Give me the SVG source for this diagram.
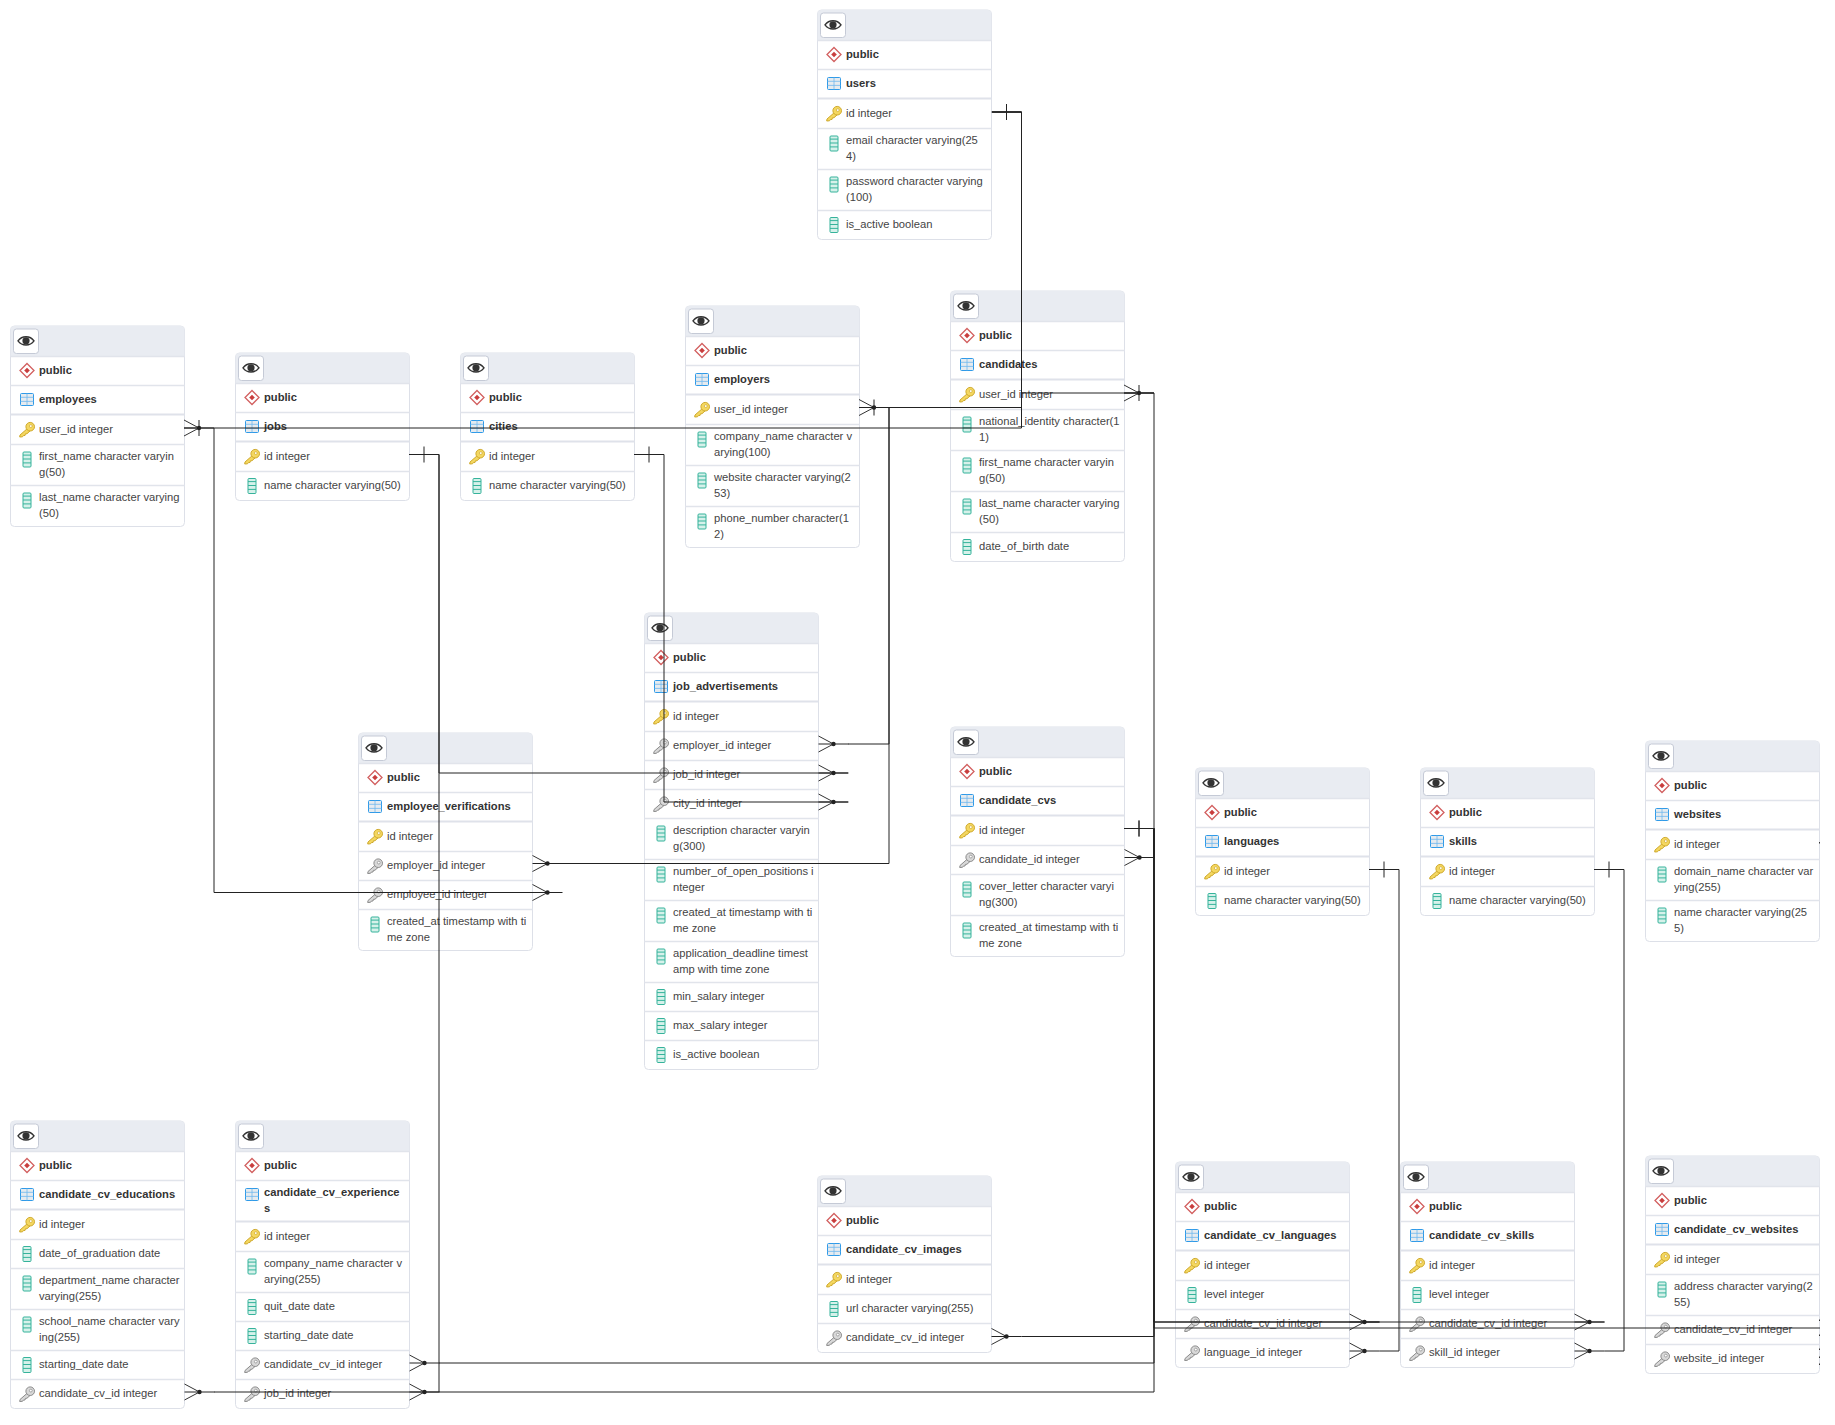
<svg xmlns="http://www.w3.org/2000/svg" width="1835" height="1425" viewBox="0 0 1835 1425">
<style>
text{font-family:"Liberation Sans",Arial,sans-serif;font-size:11.2px;fill:#444;transform:translate(-.5px,-.8px)}
.b{font-weight:700;fill:#333}
.box{fill:#fff;stroke:#dde0e8}
.hd{fill:#e9ecf2}
.s{stroke:#e1e4eb;stroke-width:1.3;fill:none}
.n{stroke:#dfe2ea;stroke-width:2;fill:none}
.l{stroke:#222;fill:none}
.c{stroke:#333;fill:none}
</style>
<defs>
<g id="head">
<path class="hd" d="M0 30.5V4a4 4 0 0 1 4-4H170a4 4 0 0 1 4 4V30.5Z"/>
<rect x="3" y="3" width="25" height="24.5" rx="3" fill="#fff" stroke="#c5cad6"/>
<path d="M7.5 14.8C11.5 9.3 19.5 9.3 23.5 14.8C19.5 20.3 11.5 20.3 7.5 14.8Z" fill="#fff" stroke="#333" stroke-width="1.4"/>
<circle cx="15.5" cy="14.8" r="3.6" fill="#333"/>
<path class="s" d="M0 30.5H174M0 59.5H174"/>
<path d="M16.5 37.5L23.5 44.5L16.5 51.5L9.5 44.5Z" fill="#fff" stroke="#d25f5f" stroke-width="1.3"/>
<path d="M16.5 41.7L19.3 44.5L16.5 47.3L13.7 44.5Z" fill="#c93d3d"/>
<rect x="10" y="67.5" width="13" height="12" rx="1" fill="#e6ebef" stroke="#2f9ae8"/>
<path d="M10 71.3H23M16.5 67.5V79.5M10 75.4H23" stroke="#6fb8ee" fill="none" stroke-width=".8"/>
</g>
<g id="pk">
<path d="M1 -1.5L-7 5.5L-7.3 7.5L-4.5 7.3L-3.5 6L-2 6L-1.6 4.4L0 4.2L3 1.5" fill="#f4d760" stroke="#cfa92c"/>
<circle cx="3.2" cy="-2.8" r="4.3" fill="#f4d760" stroke="#cfa92c"/>
<circle cx="3.8" cy="-3.4" r="1.4" fill="#fff" stroke="#cfa92c" stroke-width=".7"/>
</g>
<g id="fk">
<path d="M1 -1.5L-7 5.5L-7.3 7.5L-4.5 7.3L-3.5 6L-2 6L-1.6 4.4L0 4.2L3 1.5" fill="#d8d8d8" stroke="#8a8a8a"/>
<circle cx="3.2" cy="-2.8" r="4.3" fill="#d8d8d8" stroke="#8a8a8a"/>
<circle cx="3.8" cy="-3.4" r="1.4" fill="#fff" stroke="#8a8a8a" stroke-width=".7"/>
</g>
<g id="col">
<rect x="-4" y="-7.5" width="8" height="15" rx="1" fill="#d6f1ea" stroke="#35b39b"/>
<path d="M-4 -4.4H4M-4 -.5H4M-4 3.4H4" stroke="#35b39b" fill="none"/>
</g>
<g id="crow" class="c">
<path d="M-15 -8L0 0L-15 8"/>
<path class="l" d="M-15 0H15"/>
<circle r="2.2" fill="#222" stroke="none"/>
</g>
<g id="bar">
<path class="l" d="M0 -8V8"/>
<path class="l" d="M-15 0H15"/>
</g>
</defs>

<g id="t-users" transform="translate(817.5 10)">
<rect class="box" width="174" height="229.5" rx="4"/><use href="#head"/>
<path class="n" d="M0 88.5H174"/><path class="s" d="M0 118.5H174M0 159.5H174M0 200.5H174"/>
<text x="29" y="49" class="b">public</text><text x="29" y="78" class="b">users</text>
<use href="#pk" x="16.5" y="103.5"/><text x="29" y="108">id integer</text>
<use href="#col" x="16.5" y="133.5"/><text x="29" y="134.5">email character varying(25</text><text x="29" y="150.5">4)</text>
<use href="#col" x="16.5" y="174.5"/><text x="29" y="175.5">password character varying</text><text x="29" y="191.5">(100)</text>
<use href="#col" x="16.5" y="215"/><text x="29" y="218.5">is_active boolean</text>
</g>

<g id="t-employees" transform="translate(10.5 326)">
<rect class="box" width="174" height="200.5" rx="4"/><use href="#head"/>
<path class="n" d="M0 88.5H174"/><path class="s" d="M0 118.5H174M0 159.5H174"/>
<text x="29" y="49" class="b">public</text><text x="29" y="78" class="b">employees</text>
<use href="#pk" x="16.5" y="103.5"/><text x="29" y="108">user_id integer</text>
<use href="#col" x="16.5" y="133.5"/><text x="29" y="134.5">first_name character varyin</text><text x="29" y="150.5">g(50)</text>
<use href="#col" x="16.5" y="174.5"/><text x="29" y="175.5">last_name character varying</text><text x="29" y="191.5">(50)</text>
</g>

<g id="t-jobs" transform="translate(235.5 353)">
<rect class="box" width="174" height="147.5" rx="4"/><use href="#head"/>
<path class="n" d="M0 88.5H174"/><path class="s" d="M0 118.5H174"/>
<text x="29" y="49" class="b">public</text><text x="29" y="78" class="b">jobs</text>
<use href="#pk" x="16.5" y="103.5"/><text x="29" y="108">id integer</text>
<use href="#col" x="16.5" y="133"/><text x="29" y="136.5">name character varying(50)</text>
</g>

<g id="t-cities" transform="translate(460.5 353)">
<rect class="box" width="174" height="147.5" rx="4"/><use href="#head"/>
<path class="n" d="M0 88.5H174"/><path class="s" d="M0 118.5H174"/>
<text x="29" y="49" class="b">public</text><text x="29" y="78" class="b">cities</text>
<use href="#pk" x="16.5" y="103.5"/><text x="29" y="108">id integer</text>
<use href="#col" x="16.5" y="133"/><text x="29" y="136.5">name character varying(50)</text>
</g>

<g id="t-employers" transform="translate(685.5 306)">
<rect class="box" width="174" height="241.5" rx="4"/><use href="#head"/>
<path class="n" d="M0 88.5H174"/><path class="s" d="M0 118.5H174M0 159.5H174M0 200.5H174"/>
<text x="29" y="49" class="b">public</text><text x="29" y="78" class="b">employers</text>
<use href="#pk" x="16.5" y="103.5"/><text x="29" y="108">user_id integer</text>
<use href="#col" x="16.5" y="133.5"/><text x="29" y="134.5">company_name character v</text><text x="29" y="150.5">arying(100)</text>
<use href="#col" x="16.5" y="174.5"/><text x="29" y="175.5">website character varying(2</text><text x="29" y="191.5">53)</text>
<use href="#col" x="16.5" y="215.5"/><text x="29" y="216.5">phone_number character(1</text><text x="29" y="232.5">2)</text>
</g>

<g id="t-candidates" transform="translate(950.5 291)">
<rect class="box" width="174" height="270.5" rx="4"/><use href="#head"/>
<path class="n" d="M0 88.5H174"/><path class="s" d="M0 118.5H174M0 159.5H174M0 200.5H174M0 241.5H174"/>
<text x="29" y="49" class="b">public</text><text x="29" y="78" class="b">candidates</text>
<use href="#pk" x="16.5" y="103.5"/><text x="29" y="108">user_id integer</text>
<use href="#col" x="16.5" y="133.5"/><text x="29" y="134.5">national_identity character(1</text><text x="29" y="150.5">1)</text>
<use href="#col" x="16.5" y="174.5"/><text x="29" y="175.5">first_name character varyin</text><text x="29" y="191.5">g(50)</text>
<use href="#col" x="16.5" y="215.5"/><text x="29" y="216.5">last_name character varying</text><text x="29" y="232.5">(50)</text>
<use href="#col" x="16.5" y="256"/><text x="29" y="259.5">date_of_birth date</text>
</g>

<g id="t-job_advertisements" transform="translate(644.5 613)">
<rect class="box" width="174" height="456.5" rx="4"/><use href="#head"/>
<path class="n" d="M0 88.5H174"/><path class="s" d="M0 118.5H174M0 147.5H174M0 176.5H174M0 205.5H174M0 246.5H174M0 287.5H174M0 328.5H174M0 369.5H174M0 398.5H174M0 427.5H174"/>
<text x="29" y="49" class="b">public</text><text x="29" y="78" class="b">job_advertisements</text>
<use href="#pk" x="16.5" y="103.5"/><text x="29" y="108">id integer</text>
<use href="#fk" x="16.5" y="133"/><text x="29" y="136.5">employer_id integer</text>
<use href="#fk" x="16.5" y="162"/><text x="29" y="165.5">job_id integer</text>
<use href="#fk" x="16.5" y="191"/><text x="29" y="194.5">city_id integer</text>
<use href="#col" x="16.5" y="220.5"/><text x="29" y="221.5">description character varyin</text><text x="29" y="237.5">g(300)</text>
<use href="#col" x="16.5" y="261.5"/><text x="29" y="262.5">number_of_open_positions i</text><text x="29" y="278.5">nteger</text>
<use href="#col" x="16.5" y="302.5"/><text x="29" y="303.5">created_at timestamp with ti</text><text x="29" y="319.5">me zone</text>
<use href="#col" x="16.5" y="343.5"/><text x="29" y="344.5">application_deadline timest</text><text x="29" y="360.5">amp with time zone</text>
<use href="#col" x="16.5" y="384"/><text x="29" y="387.5">min_salary integer</text>
<use href="#col" x="16.5" y="413"/><text x="29" y="416.5">max_salary integer</text>
<use href="#col" x="16.5" y="442"/><text x="29" y="445.5">is_active boolean</text>
</g>

<g id="t-employee_verifications" transform="translate(358.5 733)">
<rect class="box" width="174" height="217.5" rx="4"/><use href="#head"/>
<path class="n" d="M0 88.5H174"/><path class="s" d="M0 118.5H174M0 147.5H174M0 176.5H174"/>
<text x="29" y="49" class="b">public</text><text x="29" y="78" class="b">employee_verifications</text>
<use href="#pk" x="16.5" y="103.5"/><text x="29" y="108">id integer</text>
<use href="#fk" x="16.5" y="133"/><text x="29" y="136.5">employer_id integer</text>
<use href="#fk" x="16.5" y="162"/><text x="29" y="165.5">employee_id integer</text>
<use href="#col" x="16.5" y="191.5"/><text x="29" y="192.5">created_at timestamp with ti</text><text x="29" y="208.5">me zone</text>
</g>

<g id="t-candidate_cvs" transform="translate(950.5 727)">
<rect class="box" width="174" height="229.5" rx="4"/><use href="#head"/>
<path class="n" d="M0 88.5H174"/><path class="s" d="M0 118.5H174M0 147.5H174M0 188.5H174"/>
<text x="29" y="49" class="b">public</text><text x="29" y="78" class="b">candidate_cvs</text>
<use href="#pk" x="16.5" y="103.5"/><text x="29" y="108">id integer</text>
<use href="#fk" x="16.5" y="133"/><text x="29" y="136.5">candidate_id integer</text>
<use href="#col" x="16.5" y="162.5"/><text x="29" y="163.5">cover_letter character varyi</text><text x="29" y="179.5">ng(300)</text>
<use href="#col" x="16.5" y="203.5"/><text x="29" y="204.5">created_at timestamp with ti</text><text x="29" y="220.5">me zone</text>
</g>

<g id="t-languages" transform="translate(1195.5 768)">
<rect class="box" width="174" height="147.5" rx="4"/><use href="#head"/>
<path class="n" d="M0 88.5H174"/><path class="s" d="M0 118.5H174"/>
<text x="29" y="49" class="b">public</text><text x="29" y="78" class="b">languages</text>
<use href="#pk" x="16.5" y="103.5"/><text x="29" y="108">id integer</text>
<use href="#col" x="16.5" y="133"/><text x="29" y="136.5">name character varying(50)</text>
</g>

<g id="t-skills" transform="translate(1420.5 768)">
<rect class="box" width="174" height="147.5" rx="4"/><use href="#head"/>
<path class="n" d="M0 88.5H174"/><path class="s" d="M0 118.5H174"/>
<text x="29" y="49" class="b">public</text><text x="29" y="78" class="b">skills</text>
<use href="#pk" x="16.5" y="103.5"/><text x="29" y="108">id integer</text>
<use href="#col" x="16.5" y="133"/><text x="29" y="136.5">name character varying(50)</text>
</g>

<g id="t-websites" transform="translate(1645.5 741)">
<rect class="box" width="174" height="200.5" rx="4"/><use href="#head"/>
<path class="n" d="M0 88.5H174"/><path class="s" d="M0 118.5H174M0 159.5H174"/>
<text x="29" y="49" class="b">public</text><text x="29" y="78" class="b">websites</text>
<use href="#pk" x="16.5" y="103.5"/><text x="29" y="108">id integer</text>
<use href="#col" x="16.5" y="133.5"/><text x="29" y="134.5">domain_name character var</text><text x="29" y="150.5">ying(255)</text>
<use href="#col" x="16.5" y="174.5"/><text x="29" y="175.5">name character varying(25</text><text x="29" y="191.5">5)</text>
</g>

<g id="t-candidate_cv_educations" transform="translate(10.5 1121)">
<rect class="box" width="174" height="287.5" rx="4"/><use href="#head"/>
<path class="n" d="M0 88.5H174"/><path class="s" d="M0 118.5H174M0 147.5H174M0 188.5H174M0 229.5H174M0 258.5H174"/>
<text x="29" y="49" class="b">public</text><text x="29" y="78" class="b">candidate_cv_educations</text>
<use href="#pk" x="16.5" y="103.5"/><text x="29" y="108">id integer</text>
<use href="#col" x="16.5" y="133"/><text x="29" y="136.5">date_of_graduation date</text>
<use href="#col" x="16.5" y="162.5"/><text x="29" y="163.5">department_name character</text><text x="29" y="179.5">varying(255)</text>
<use href="#col" x="16.5" y="203.5"/><text x="29" y="204.5">school_name character vary</text><text x="29" y="220.5">ing(255)</text>
<use href="#col" x="16.5" y="244"/><text x="29" y="247.5">starting_date date</text>
<use href="#fk" x="16.5" y="273"/><text x="29" y="276.5">candidate_cv_id integer</text>
</g>

<g id="t-candidate_cv_experiences" transform="translate(235.5 1121)">
<rect class="box" width="174" height="287.5" rx="4"/><use href="#head"/>
<path class="n" d="M0 100.5H174"/><path class="s" d="M0 130.5H174M0 171.5H174M0 200.5H174M0 229.5H174M0 258.5H174"/>
<text x="29" y="49" class="b">public</text><text x="29" y="75.5" class="b">candidate_cv_experience</text><text x="29" y="91.5" class="b">s</text>
<use href="#pk" x="16.5" y="115.5"/><text x="29" y="120">id integer</text>
<use href="#col" x="16.5" y="145.5"/><text x="29" y="146.5">company_name character v</text><text x="29" y="162.5">arying(255)</text>
<use href="#col" x="16.5" y="186"/><text x="29" y="189.5">quit_date date</text>
<use href="#col" x="16.5" y="215"/><text x="29" y="218.5">starting_date date</text>
<use href="#fk" x="16.5" y="244"/><text x="29" y="247.5">candidate_cv_id integer</text>
<use href="#fk" x="16.5" y="273"/><text x="29" y="276.5">job_id integer</text>
</g>

<g id="t-candidate_cv_images" transform="translate(817.5 1176)">
<rect class="box" width="174" height="176.5" rx="4"/><use href="#head"/>
<path class="n" d="M0 88.5H174"/><path class="s" d="M0 118.5H174M0 147.5H174"/>
<text x="29" y="49" class="b">public</text><text x="29" y="78" class="b">candidate_cv_images</text>
<use href="#pk" x="16.5" y="103.5"/><text x="29" y="108">id integer</text>
<use href="#col" x="16.5" y="133"/><text x="29" y="136.5">url character varying(255)</text>
<use href="#fk" x="16.5" y="162"/><text x="29" y="165.5">candidate_cv_id integer</text>
</g>

<g id="t-candidate_cv_languages" transform="translate(1175.5 1162)">
<rect class="box" width="174" height="205.5" rx="4"/><use href="#head"/>
<path class="n" d="M0 88.5H174"/><path class="s" d="M0 118.5H174M0 147.5H174M0 176.5H174"/>
<text x="29" y="49" class="b">public</text><text x="29" y="78" class="b">candidate_cv_languages</text>
<use href="#pk" x="16.5" y="103.5"/><text x="29" y="108">id integer</text>
<use href="#col" x="16.5" y="133"/><text x="29" y="136.5">level integer</text>
<use href="#fk" x="16.5" y="162"/><text x="29" y="165.5">candidate_cv_id integer</text>
<use href="#fk" x="16.5" y="191"/><text x="29" y="194.5">language_id integer</text>
</g>

<g id="t-candidate_cv_skills" transform="translate(1400.5 1162)">
<rect class="box" width="174" height="205.5" rx="4"/><use href="#head"/>
<path class="n" d="M0 88.5H174"/><path class="s" d="M0 118.5H174M0 147.5H174M0 176.5H174"/>
<text x="29" y="49" class="b">public</text><text x="29" y="78" class="b">candidate_cv_skills</text>
<use href="#pk" x="16.5" y="103.5"/><text x="29" y="108">id integer</text>
<use href="#col" x="16.5" y="133"/><text x="29" y="136.5">level integer</text>
<use href="#fk" x="16.5" y="162"/><text x="29" y="165.5">candidate_cv_id integer</text>
<use href="#fk" x="16.5" y="191"/><text x="29" y="194.5">skill_id integer</text>
</g>

<g id="t-candidate_cv_websites" transform="translate(1645.5 1156)">
<rect class="box" width="174" height="217.5" rx="4"/><use href="#head"/>
<path class="n" d="M0 88.5H174"/><path class="s" d="M0 118.5H174M0 159.5H174M0 188.5H174"/>
<text x="29" y="49" class="b">public</text><text x="29" y="78" class="b">candidate_cv_websites</text>
<use href="#pk" x="16.5" y="103.5"/><text x="29" y="108">id integer</text>
<use href="#col" x="16.5" y="133.5"/><text x="29" y="134.5">address character varying(2</text><text x="29" y="150.5">55)</text>
<use href="#fk" x="16.5" y="174"/><text x="29" y="177.5">candidate_cv_id integer</text>
<use href="#fk" x="16.5" y="203"/><text x="29" y="206.5">website_id integer</text>
</g>

<g id="connectors">
<path class="l" d="M992 112H1021.5V428H214"/>
<path class="l" d="M992 112H1021.5V407.5H889"/>
<path class="l" d="M992 112H1021.5V393H1154"/>
<path class="l" d="M214 428V892.5H562"/>
<path class="l" d="M889 407.5V744H848"/>
<path class="l" d="M889 407.5V863.5H562"/>
<path class="l" d="M439 454.5V773H848"/>
<path class="l" d="M439 454.5V1392"/>
<path class="l" d="M664 454.5V802H848"/>
<path class="l" d="M1154 393V857.5"/>
<path class="l" d="M1154 828.5V1336.5H1021.5"/>
<path class="l" d="M1154 828.5V1363H439"/>
<path class="l" d="M1154 828.5V1392H214"/>
<path class="l" d="M1154 828.5V1322H1379.5"/>
<path class="l" d="M1154 828.5V1322H1604.5"/>
<path class="l" d="M1154 828.5V1328H1820"/>
<path class="l" d="M1399 869.5V1351H1379.5"/>
<path class="l" d="M1624 869.5V1351H1604.5"/>
<use href="#bar" x="1006.5" y="112"/>
<use href="#bar" x="199" y="428"/>
<use href="#crow" x="199" y="428"/>
<use href="#bar" x="424" y="454.5"/>
<use href="#bar" x="649" y="454.5"/>
<use href="#bar" x="874" y="407.5"/>
<use href="#crow" x="874" y="407.5"/>
<use href="#bar" x="1139" y="393"/>
<use href="#crow" x="1139" y="393"/>
<use href="#crow" x="833.5" y="744"/>
<use href="#crow" x="833.5" y="773"/>
<use href="#crow" x="833.5" y="802"/>
<use href="#crow" x="547.5" y="863.5"/>
<use href="#crow" x="547.5" y="892.5"/>
<use href="#bar" x="1139" y="828.5"/>
<use href="#bar" x="1139" y="828.5"/>
<use href="#crow" x="1139.5" y="857.5"/>
<use href="#bar" x="1384" y="869.5"/>
<use href="#bar" x="1609" y="869.5"/>
<use href="#crow" x="1006.5" y="1336.5"/>
<use href="#crow" x="424.5" y="1363"/>
<use href="#crow" x="424.5" y="1392"/>
<use href="#crow" x="199.5" y="1392"/>
<use href="#crow" x="1364.5" y="1322"/>
<use href="#crow" x="1364.5" y="1351"/>
<use href="#crow" x="1589.5" y="1322"/>
<use href="#crow" x="1589.5" y="1351"/>
<path class="c" d="M1819.5 842V843.5M1819.5 1319.5V1321M1819.5 1334.5V1336M1819.5 1348.5V1350M1819.5 1356.5V1358M1819.5 1363.5V1365"/>
</g>
</svg>
